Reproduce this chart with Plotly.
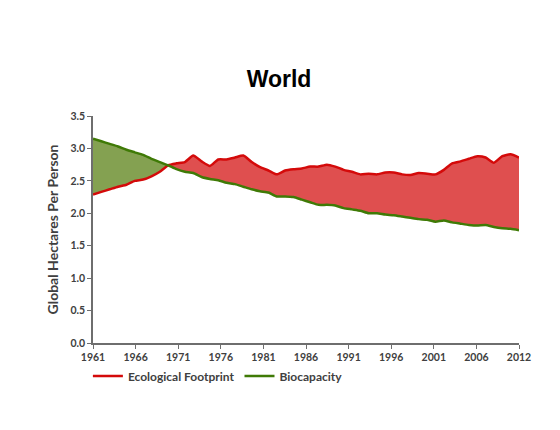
import plotly.graph_objects as go

years = list(range(1961, 2013))

ecological_footprint = [
    2.29, 2.33, 2.37, 2.41, 2.44, 2.50, 2.52, 2.57, 2.64, 2.74,
    2.77, 2.79, 2.89, 2.80, 2.73, 2.83, 2.83, 2.86, 2.89, 2.79,
    2.71, 2.66, 2.60, 2.66, 2.68, 2.69, 2.72, 2.72, 2.75, 2.72,
    2.67, 2.64, 2.60, 2.61, 2.60, 2.63, 2.63, 2.60, 2.59, 2.62,
    2.61, 2.60, 2.67, 2.77, 2.80, 2.84, 2.88, 2.86, 2.78, 2.88,
    2.91, 2.86,
]

biocapacity = [
    3.15, 3.11, 3.07, 3.03, 2.98, 2.94, 2.90, 2.84, 2.79, 2.74,
    2.68, 2.64, 2.62, 2.56, 2.53, 2.51, 2.47, 2.45, 2.41, 2.37,
    2.34, 2.32, 2.26, 2.26, 2.25, 2.21, 2.17, 2.13, 2.13, 2.12,
    2.08, 2.06, 2.04, 2.00, 2.00, 1.98, 1.97, 1.95, 1.93, 1.91,
    1.90, 1.87, 1.89, 1.86, 1.84, 1.82, 1.81, 1.82, 1.79, 1.77,
    1.76, 1.74,
]

tick_labels = ["1961", "1966", "1971", "1976", "1981", "1986",
               "1991", "1996", "2001", "2006", "2012"]

RED = "#d40a0a"
GREEN = "#3f7a06"
RED_FILL = "rgba(220, 60, 60, 0.9)"
GREEN_FILL = "rgba(110, 145, 50, 0.85)"
FONT = "Lato, DejaVu Sans, sans-serif"

# the two lines cross in 1970, split the shaded area there
split = years.index(1970)
spline = dict(width=0, shape="spline", smoothing=0.5)

fig = go.Figure()

# green area: biocapacity above footprint
fig.add_trace(go.Scatter(x=years[:split + 1], y=ecological_footprint[:split + 1],
                         mode="lines", line=spline, showlegend=False, hoverinfo="skip"))
fig.add_trace(go.Scatter(x=years[:split + 1], y=biocapacity[:split + 1],
                         mode="lines", line=spline, fill="tonexty", fillcolor=GREEN_FILL,
                         showlegend=False, hoverinfo="skip"))

# red area: footprint above biocapacity
fig.add_trace(go.Scatter(x=years[split:], y=biocapacity[split:],
                         mode="lines", line=spline, showlegend=False, hoverinfo="skip"))
fig.add_trace(go.Scatter(x=years[split:], y=ecological_footprint[split:],
                         mode="lines", line=spline, fill="tonexty", fillcolor=RED_FILL,
                         showlegend=False, hoverinfo="skip"))

# the lines themselves
fig.add_trace(go.Scatter(x=years, y=ecological_footprint, name="Ecological Footprint",
                         mode="lines", line=dict(color=RED, width=2.5, shape="spline", smoothing=0.5)))
fig.add_trace(go.Scatter(x=years, y=biocapacity, name="Biocapacity",
                         mode="lines", line=dict(color=GREEN, width=2.5, shape="spline", smoothing=0.5)))

axis_font = dict(family=FONT, size=10.5, color="#404040", weight="bold")

# page adds an 8px body margin, so margins are shifted by 8
fig.update_layout(
    width=560, height=430,
    paper_bgcolor="white", plot_bgcolor="white",
    margin=dict(l=85, r=49, t=108, b=95),
    title=dict(text="<b>World</b>", x=0.484, xanchor="center", y=0.816, yanchor="bottom",
               xref="container", yref="container",
               font=dict(family="Liberation Sans, Arial, sans-serif", size=23, color="black")),
    showlegend=True,
    legend=dict(orientation="h", x=-0.012, y=-0.145, xanchor="left", yanchor="middle",
                traceorder="normal",
                font=dict(family=FONT, size=12, color="#404040", weight="bold")),
)

fig.update_xaxes(
    range=[1961, 2012],
    tickvals=[1961 + i * 5.1 for i in range(len(tick_labels))],
    ticktext=tick_labels,
    showgrid=False, zeroline=False,
    showline=True, linecolor="#6e6e6e", linewidth=1.5,
    ticks="outside", ticklen=4, tickcolor="#6e6e6e",
    tickfont=axis_font,
)

fig.update_yaxes(
    range=[0, 3.5],
    tickvals=[0, 0.5, 1.0, 1.5, 2.0, 2.5, 3.0, 3.5],
    tickformat=".1f",
    showgrid=False, zeroline=False,
    showline=True, linecolor="#6e6e6e", linewidth=1.5,
    ticks="outside", ticklen=4, tickcolor="#6e6e6e",
    tickfont=axis_font,
    title=dict(text="Global Hectares Per Person", standoff=9,
               font=dict(family=FONT, size=14, color="#404040", weight="bold")),
)

fig.write_html("out.html")
